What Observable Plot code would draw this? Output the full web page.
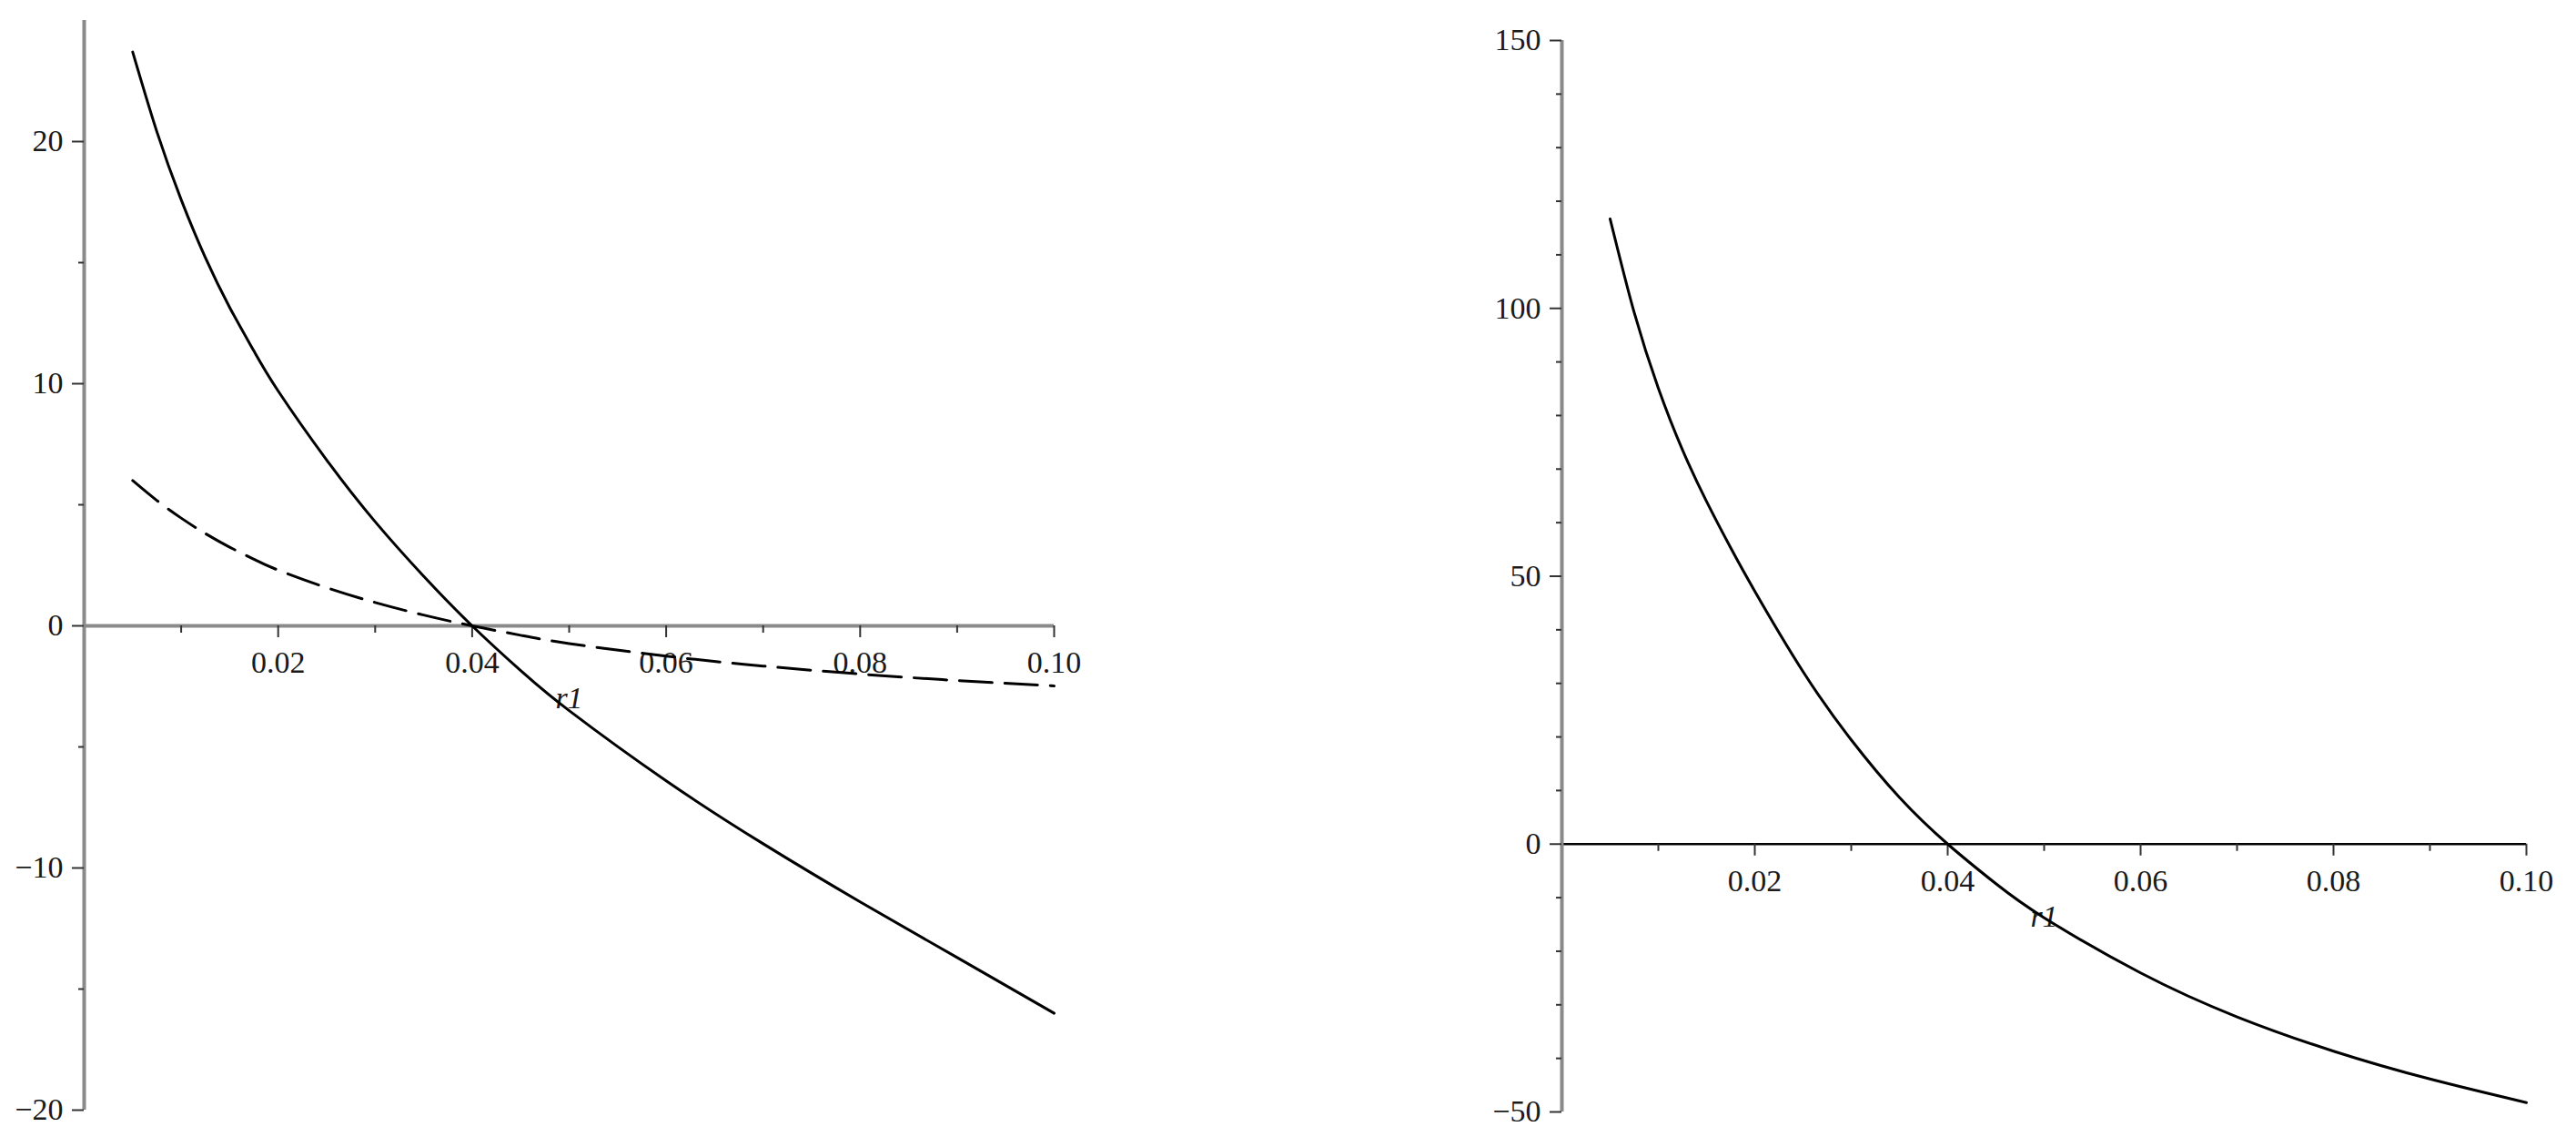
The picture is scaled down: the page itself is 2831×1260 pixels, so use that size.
<!DOCTYPE html>
<html>
<head>
<meta charset="utf-8">
<script src="https://cdn.jsdelivr.net/npm/d3@7"></script>
<script src="https://cdn.jsdelivr.net/npm/@observablehq/plot@0.6"></script>
<style>
html, body { margin: 0; padding: 0; background: #fff; }
#wrap { position: relative; width: 2831px; height: 1260px; overflow: hidden; }
#left { position: absolute; left: 0; top: 0; }
#right { position: absolute; left: 1400px; top: 0; }
</style>
</head>
<body>
<div id="wrap"><div id="left"></div><div id="right"></div></div>
<script>
// ---- data ----
const r1 = [0.005, 0.0075, 0.01, 0.0125, 0.015, 0.0175, 0.02, 0.025, 0.03, 0.035, 0.04, 0.045, 0.05, 0.06, 0.07, 0.08, 0.09, 0.10];
const leftSolid  = [23.7, 20.4, 17.6, 15.2, 13.15, 11.35, 9.7, 6.85, 4.3, 2.05, 0, -1.85, -3.5, -6.4, -9.0, -11.4, -13.7, -16.0];
const leftDashed = [6.0, 5.175, 4.45, 3.81, 3.25, 2.75, 2.3, 1.575, 0.965, 0.445, 0, -0.39, -0.73, -1.25, -1.66, -1.99, -2.26, -2.48];
const rightSolid = [116.7, 99.2, 85.1, 73.6, 63.95, 55.3, 47.2, 32.2, 19.45, 8.7, 0, -7.4, -13.75, -24.05, -32.25, -38.65, -43.85, -48.25];

const xDomain = [0, 0.1];
const xMajorTicks = [0.02, 0.04, 0.06, 0.08, 0.10];
const xMinorTicks = [0.01, 0.03, 0.05, 0.07, 0.09];
const leftYDomain = [-20, 25];
const leftYMajor = [-20, -10, 0, 10, 20];
const leftYMinor = [-15, -5, 5, 15];
const rightYDomain = [-50, 150];
const rightYMajor = [-50, 0, 50, 100, 150];
const rightYMinor = [-40, -30, -20, -10, 10, 20, 30, 40, 60, 70, 80, 90, 110, 120, 130, 140];
const xLabel = "r1";

const FONT = "'Liberation Serif', 'Times New Roman', serif";

function rows(values) { return r1.map((x, i) => ({x, y: values[i]})); }

function chart({width, height, marginTop, marginBottom, marginLeft, marginRight,
                yDomain, yMajor, yMinor, series, xAxisStroke, xAxisWidth}) {
  const fmtX = d3.format(".2f");
  const fmtY = d3.format("");
  const marks = [
    // x axis line at y = 0
    Plot.ruleY([0], {stroke: xAxisStroke, strokeWidth: xAxisWidth}),
    // y axis line at x = 0
    Plot.ruleX([0], {stroke: "#8a8a8a", strokeWidth: 4}),
    // x ticks hanging below the axis
    Plot.ruleX(xMajorTicks, {x: d => d, y1: 0, y2: 0, insetBottom: -13, stroke: "#333", strokeWidth: 2}),
    Plot.ruleX(xMinorTicks, {x: d => d, y1: 0, y2: 0, insetBottom: -8, stroke: "#333", strokeWidth: 2}),
    Plot.text(xMajorTicks, {x: d => d, y: 0, text: d => fmtX(d), dy: 41, fontSize: 34, fill: "#1a1a1a", lineAnchor: "middle"}),
    // y ticks
    Plot.axisY({ticks: yMajor, tickSize: 13, tickPadding: 10, tickFormat: fmtY, fontSize: 34, stroke: "#333", strokeWidth: 2, fill: "#1a1a1a", label: null}),
    Plot.axisY({ticks: yMinor, tickSize: 6, tickPadding: 0, tickFormat: () => "", stroke: "#333", strokeWidth: 2, label: null}),
    // axis label
    Plot.text([xLabel], {x: d3.mean(xDomain), y: 0, text: d => d, dy: 80, fontSize: 34, fontStyle: "italic", fill: "#1a1a1a", lineAnchor: "middle"})
  ];
  for (const s of series) {
    marks.push(Plot.line(rows(s.values), {x: "x", y: "y", stroke: "#000", strokeWidth: 3,
      strokeDasharray: s.dash, curve: "natural"}));
  }
  return Plot.plot({
    width, height, marginTop, marginBottom, marginLeft, marginRight,
    x: {domain: xDomain, axis: null},
    y: {domain: yDomain, axis: null},
    style: {fontFamily: FONT, fontSize: "34px", background: "white", color: "#1a1a1a", overflow: "visible"},
    marks
  });
}

document.getElementById("left").append(chart({
  width: 1400, height: 1260, marginTop: 22, marginBottom: 41, marginLeft: 92, marginRight: 242,
  yDomain: leftYDomain, yMajor: leftYMajor, yMinor: leftYMinor,
  xAxisStroke: "#8a8a8a", xAxisWidth: 4,
  series: [{values: leftSolid, dash: null}, {values: leftDashed, dash: "36,14"}]
}));

document.getElementById("right").append(chart({
  width: 1431, height: 1260, marginTop: 44, marginBottom: 39, marginLeft: 316, marginRight: 55,
  yDomain: rightYDomain, yMajor: rightYMajor, yMinor: rightYMinor,
  xAxisStroke: "#000", xAxisWidth: 2.5,
  series: [{values: rightSolid, dash: null}]
}));
</script>
</body>
</html>
